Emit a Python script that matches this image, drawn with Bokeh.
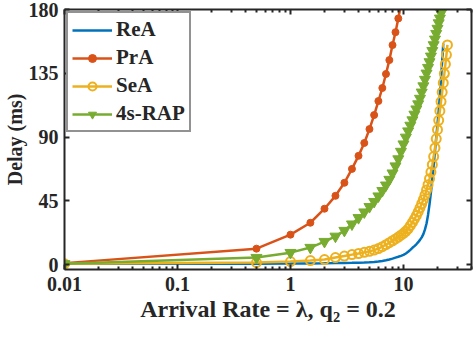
from bokeh.plotting import figure
from bokeh.models import (LogAxis, LinearAxis, FixedTicker, Legend, LegendItem,
                          Range1d, CustomJSTickFormatter)
from bokeh.embed import file_html
from bokeh.resources import INLINE

# ---------------- data ----------------
lam_rea = [0.01, 0.5, 1.0, 1.5, 2.0, 2.5, 3.0, 3.5, 4.0, 4.5, 5.0, 5.5, 6.0, 6.5, 7.0, 7.5,
           8.0, 8.5, 9.0, 9.5, 10.0, 10.5, 11.0, 11.5, 12.0, 12.5, 13.0, 13.5, 14.0, 14.5,
           15.0, 15.5, 16.0, 16.5, 17.0, 17.5, 18.0, 18.5, 19.0, 19.5, 20.0, 20.5, 21.0,
           21.5, 22.0, 22.5]
rea = [0.5, 0.6, 0.7, 0.8, 0.9, 1.0, 1.1, 1.2, 1.3, 1.4, 1.6, 1.8, 2.1, 2.5, 3.0, 3.6,
       4.2, 4.9, 5.5, 6.1, 6.8, 7.8, 9.0, 10.4, 11.8, 13.0, 14.3, 15.8, 17.4, 19.2,
       21.5, 24.8, 29.0, 35.0, 42.5, 51.0, 60.5, 70.0, 80.0, 89.5, 99.0, 108.5, 119.5,
       131.0, 143.5, 156.0]

lam_pra = [0.01, 0.5, 1.0, 1.5, 2.0, 2.5, 3.0, 3.5, 4.0, 4.5, 5.0, 5.5, 6.0, 6.5, 7.0,
           7.5, 8.0, 8.5, 9.0, 9.5]
pra = [1.0, 11.2, 21.1, 29.5, 39.4, 48.5, 57.7, 67.5, 76.7, 85.8, 95.6, 105.5, 115.4,
       124.6, 134.5, 144.3, 154.9, 164.0, 173.7, 183.5]

lam_sea = [0.01, 0.5, 1.0, 1.5, 2.0, 2.5, 3.0, 3.5, 4.0, 4.5, 5.0, 5.5, 6.0, 6.5, 7.0, 7.5,
           8.0, 8.5, 9.0, 9.5, 10.0, 10.5, 11.0, 11.5, 12.0, 12.5, 13.0, 13.5, 14.0, 14.5,
           15.0, 15.5, 16.0, 16.5, 17.0, 17.5, 18.0, 18.5, 19.0, 19.5, 20.0, 20.5, 21.0,
           21.5, 22.0, 22.5, 23.0, 23.5, 24.0, 24.5]
sea = [0.5, 1.4, 2.1, 2.8, 3.5, 4.9, 6.0, 7.0, 7.8, 8.6, 9.3, 10.2, 11.3, 12.6, 14.0, 15.4,
       16.8, 18.1, 19.4, 20.7, 22.0, 23.5, 25.2, 27.4, 29.7, 32.1, 34.6, 37.2, 40.0, 42.9,
       45.8, 49.0, 52.6, 56.4, 60.6, 65.3, 70.5, 76.2, 82.3, 88.7, 95.2, 101.8, 108.4,
       115.0, 121.6, 128.2, 134.8, 141.4, 148.0, 155.0]

lam_rap = [0.01, 0.5, 1.0, 1.5, 2.0, 2.5, 3.0, 3.5, 4.0, 4.5, 5.0, 5.5, 6.0, 6.5, 7.0, 7.5,
           8.0, 8.5, 9.0, 9.5, 10.0, 10.5, 11.0, 11.5, 12.0, 12.5, 13.0, 13.5, 14.0, 14.5,
           15.0, 15.5, 16.0, 16.5, 17.0, 17.5, 18.0, 18.5, 19.0, 19.5, 20.0, 20.5, 21.0,
           21.5, 22.0]
rap = [0.5, 4.9, 8.4, 12.0, 16.2, 19.9, 24.0, 28.5, 33.0, 37.0, 40.8, 44.4, 48.3, 52.1,
       56.0, 60.0, 64.5, 69.5, 74.5, 79.8, 85.0, 89.8, 94.2, 98.2, 102.0, 106.0, 109.7,
       113.3, 117.2, 121.6, 126.0, 130.6, 135.0, 139.0, 143.0, 147.0, 150.9, 155.0, 159.0,
       163.0, 166.6, 170.5, 173.8, 177.4, 180.7]

x_ticks = [0.01, 0.1, 1, 10]
x_minor = [0.02, 0.03, 0.04, 0.05, 0.06, 0.07, 0.08, 0.09,
           0.2, 0.3, 0.4, 0.5, 0.6, 0.7, 0.8, 0.9,
           2, 3, 4, 5, 6, 7, 8, 9, 20, 30, 40]
y_ticks = [0, 45, 90, 135, 180]

C_REA = "#0072BD"
C_PRA = "#D95319"
C_SEA = "#EDB120"
C_RAP = "#77AC30"
AX = "#262626"
FONT = "Liberation Serif"

p = figure(width=474, height=353, x_axis_type="log",
           x_range=Range1d(0.01, 40), y_range=Range1d(-3.5, 180),
           output_backend="svg", toolbar_location=None,
           min_border_left=62, min_border_right=3, min_border_top=9,
           min_border_bottom=84)
p.grid.visible = False
p.outline_line_color = None
p.background_fill_color = "white"
p.border_fill_color = "white"

fmt = CustomJSTickFormatter(code="return tick.toString();")
blank = CustomJSTickFormatter(code="return '';")


def style_axis(ax, labels=True):
    ax.axis_line_color = AX
    ax.axis_line_width = 2
    ax.major_tick_line_color = AX
    ax.minor_tick_line_color = AX
    ax.major_tick_line_width = 2
    ax.minor_tick_line_width = 2
    ax.major_tick_in = 5
    ax.major_tick_out = 0
    ax.minor_tick_in = 3
    ax.minor_tick_out = 0
    ax.major_label_text_font = FONT
    ax.major_label_text_font_style = "bold"
    ax.major_label_text_color = AX
    ax.major_label_text_font_size = "20px"
    if not labels:
        ax.major_label_standoff = 0


xax = p.xaxis[0]
xax.ticker = FixedTicker(ticks=x_ticks, minor_ticks=x_minor)
xax.formatter = fmt
style_axis(xax)
xax.major_label_standoff = 7
xax.axis_label = "Arrival Rate = \u03bb, q\u2082 = 0.2"
xax.axis_label_text_font = FONT
xax.axis_label_text_font_style = "bold"
xax.axis_label_text_font_size = "24px"
xax.axis_label_text_color = AX
xax.axis_label_standoff = 2

yax = p.yaxis[0]
yax.ticker = FixedTicker(ticks=y_ticks)
style_axis(yax)
yax.major_label_standoff = 6
yax.axis_label = "Delay (ms)"
yax.axis_label_text_font = FONT
yax.axis_label_text_font_style = "bold"
yax.axis_label_text_font_size = "20px"
yax.axis_label_text_color = AX
yax.axis_label_standoff = 0

top = LogAxis(ticker=FixedTicker(ticks=x_ticks, minor_ticks=x_minor), formatter=blank)
style_axis(top, labels=False)
p.add_layout(top, "above")
right = LinearAxis(ticker=FixedTicker(ticks=y_ticks), formatter=blank)
style_axis(right, labels=False)
p.add_layout(right, "right")

r_rea = p.line(lam_rea, rea, line_color=C_REA, line_width=2.5)
r_pra = p.line(lam_pra, pra, line_color=C_PRA, line_width=2.5)
s_pra = p.scatter(lam_pra, pra, marker="circle", size=7, fill_color=C_PRA,
                  line_color=C_PRA)
r_sea = p.line(lam_sea, sea, line_color=C_SEA, line_width=2.5)
s_sea = p.scatter(lam_sea, sea, marker="circle", size=9, fill_color=None,
                  line_color=C_SEA, line_width=2)
r_rap = p.line(lam_rap, rap, line_color=C_RAP, line_width=2.5)
s_rap = p.scatter(lam_rap, rap, marker="inverted_triangle", size=11, fill_color=C_RAP,
                  line_color=C_RAP)

legend = Legend(items=[
    LegendItem(label="ReA", renderers=[r_rea]),
    LegendItem(label="PrA", renderers=[r_pra, s_pra]),
    LegendItem(label="SeA", renderers=[r_sea, s_sea]),
    LegendItem(label="4s-RAP", renderers=[r_rap, s_rap]),
], location="top_left")
legend.margin = 2
legend.padding = 4
legend.spacing = 3
legend.glyph_width = 40
legend.glyph_height = 20
legend.label_height = 20
legend.label_standoff = 4
legend.label_text_font = FONT
legend.label_text_font_style = "bold"
legend.label_text_font_size = "21px"
legend.label_text_color = AX
legend.border_line_color = AX
legend.border_line_width = 2
legend.background_fill_color = "white"
legend.background_fill_alpha = 1
p.add_layout(legend)

open("out.html", "w").write(file_html(p, INLINE))
